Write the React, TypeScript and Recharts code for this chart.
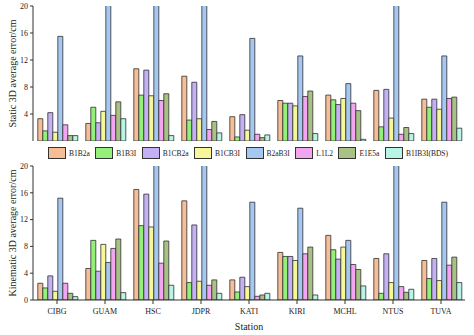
import React from 'react';
import { BarChart, Bar, XAxis, YAxis } from 'recharts';

const stations = ['CIBG', 'GUAM', 'HSC', 'JDPR', 'KATI', 'KIRI', 'MCHL', 'NTUS', 'TUVA'];
const seriesNames = ['B1B2a', 'B1B3I', 'B1CB2a', 'B1CB3I', 'B2aB3I', 'L1L2', 'E1E5a', 'B1IB3I(BDS)'];
const seriesColors = ['#F7BE96', '#95F07A', '#C4B0F5', '#F7F79A', '#A5C8F2', '#F2A6F2', '#A9C185', '#B7F5E6'];
const yTicks = [0, 4, 8, 12, 16, 20];

// Static 3D average error (cm), one array per series, in station order
const staticB1B2a = [3.3, 2.6, 10.7, 9.6, 3.6, 6.0, 6.8, 7.5, 6.2];
const staticB1B3I = [1.5, 5.0, 6.8, 3.1, 0.6, 5.6, 6.1, 2.1, 5.0];
const staticB1CB2a = [4.2, 2.7, 10.5, 8.7, 3.9, 5.6, 5.4, 7.65, 6.2];
const staticB1CB3I = [1.3, 4.4, 6.7, 3.3, 1.6, 5.2, 6.3, 3.4, 4.7];
const staticB2aB3I = [15.5, 25, 25, 25, 15.2, 12.6, 8.5, 25, 12.6];
const staticL1L2 = [2.4, 3.8, 6.0, 1.7, 1.0, 6.6, 5.6, 1.0, 6.3];
const staticE1E5a = [0.8, 5.8, 7.0, 2.9, 0.5, 7.4, 4.5, 2.0, 6.5];
const staticBDS = [0.8, 3.3, 0.8, 1.2, 0.9, 1.1, 0.25, 1.1, 1.9];

// Kinematic 3D average error (cm)
const kinB1B2a = [2.5, 4.7, 16.5, 14.8, 3.0, 7.1, 9.65, 6.2, 5.9];
const kinB1B3I = [1.8, 8.9, 11.1, 2.6, 1.2, 6.5, 7.5, 1.0, 3.2];
const kinB1CB2a = [3.6, 4.3, 15.8, 11.2, 3.4, 6.5, 6.1, 6.9, 6.2];
const kinB1CB3I = [1.3, 8.3, 10.9, 2.8, 2.0, 5.9, 7.9, 2.6, 2.9];
const kinB2aB3I = [15.2, 5.6, 25, 25, 14.6, 13.7, 8.9, 25, 14.6];
const kinL1L2 = [2.5, 7.7, 5.5, 2.2, 0.55, 6.9, 5.3, 2.0, 5.2];
const kinE1E5a = [1.0, 9.1, 8.8, 3.0, 0.75, 7.9, 4.55, 1.15, 6.4];
const kinBDS = [0.5, 1.1, 2.2, 1.0, 1.0, 0.75, 2.1, 1.6, 2.6];

const staticSeries = [staticB1B2a, staticB1B3I, staticB1CB2a, staticB1CB3I, staticB2aB3I, staticL1L2, staticE1E5a, staticBDS];
const kinSeries = [kinB1B2a, kinB1B3I, kinB1CB2a, kinB1CB3I, kinB2aB3I, kinL1L2, kinE1E5a, kinBDS];

const buildRows = (series: number[][]) =>
  stations.map((st, i) => {
    const row: Record<string, string | number> = { station: st };
    seriesNames.forEach((name, k) => {
      row[name] = series[k][i];
    });
    return row;
  });

const staticData = buildRows(staticSeries);
const kinData = buildRows(kinSeries);

const FONT = '"Liberation Serif", "DejaVu Serif", serif';
const AXIS = '#333';

const yLabel = (text: string) => (props: any) => {
  const vb = props.viewBox || {};
  const x = 12;
  const y = (vb.y || 0) + (vb.height || 0) / 2;
  return (
    <text
      x={x}
      y={y}
      transform={`rotate(-90, ${x}, ${y})`}
      textAnchor="middle"
      dominantBaseline="central"
      fontFamily={FONT}
      fontSize={10}
      fill="#222"
    >
      {text}
    </text>
  );
};

function Panel({ data, label, showX }: { data: any[]; label: string; showX: boolean }) {
  return (
    <BarChart
      width={474}
      height={showX ? 175 : 145}
      data={data}
      margin={{ top: 6, right: 9, left: 0, bottom: showX ? 10 : 4 }}
      barCategoryGap="10%"
      barGap={0}
    >
      <XAxis
        dataKey="station"
        hide={!showX}
        height={showX ? 25 : 0}
        axisLine={{ stroke: AXIS, strokeWidth: 1 }}
        tickLine={{ stroke: AXIS }}
        tickSize={4}
        tick={{ fontFamily: FONT, fontSize: 8, fill: '#222', dy: 2 }}
        interval={0}
        label={
          showX
            ? (p: any) => {
                const vb = p.viewBox || {};
                return (
                  <text
                    x={(vb.x || 0) + (vb.width || 0) / 2}
                    y={(vb.y || 0) + 30}
                    textAnchor="middle"
                    fontFamily={FONT}
                    fontSize={10}
                    fill="#222"
                  >
                    Station
                  </text>
                );
              }
            : undefined
        }
      />
      {!showX && (
        <XAxis
          xAxisId="bottomLine"
          dataKey="station"
          orientation="bottom"
          height={0}
          tick={false}
          tickLine={false}
          axisLine={{ stroke: AXIS, strokeWidth: 1 }}
        />
      )}
      <XAxis
        xAxisId="top"
        dataKey="station"
        orientation="top"
        height={0}
        tick={false}
        tickLine={false}
        axisLine={{ stroke: AXIS, strokeWidth: 1 }}
      />
      <YAxis
        domain={[0, 20]}
        ticks={yTicks}
        allowDataOverflow
        width={33}
        axisLine={{ stroke: AXIS, strokeWidth: 1 }}
        tickLine={{ stroke: AXIS }}
        tickSize={3}
        tick={{ fontFamily: FONT, fontSize: 8, fill: '#222' }}
        label={yLabel(label)}
      />
      <YAxis
        yAxisId="right"
        orientation="right"
        domain={[0, 20]}
        width={0}
        tick={false}
        tickLine={false}
        axisLine={{ stroke: AXIS, strokeWidth: 1 }}
      />
      {seriesNames.map((name, k) => (
        <Bar
          key={name}
          dataKey={name}
          fill={seriesColors[k]}
          stroke="#2e2e2e"
          strokeWidth={0.8}
          isAnimationActive={false}
        />
      ))}
    </BarChart>
  );
}

function Legend() {
  return (
    <div
      style={{
        position: 'absolute',
        left: 48,
        top: 147,
        width: 400,
        display: 'flex',
        justifyContent: 'space-between',
        alignItems: 'center',
        fontFamily: FONT,
        fontSize: 7.5,
        color: '#222',
        whiteSpace: 'nowrap',
      }}
    >
      {seriesNames.map((name, k) => (
        <div key={name} style={{ display: 'flex', alignItems: 'center' }}>
          <div
            style={{
              width: 16,
              height: 10,
              background: seriesColors[k],
              border: '1px solid #333',
              marginRight: 3,
            }}
          />
          <span>{name}</span>
        </div>
      ))}
    </div>
  );
}

export default function App() {
  return (
    <div style={{ position: 'absolute', left: 0, top: 0, width: 474, height: 335, background: '#fff', overflow: 'hidden' }}>
      <div style={{ position: 'absolute', left: 0, top: 0 }}>
        <Panel data={staticData} label="Static 3D average error/cm" showX={false} />
      </div>
      <Legend />
      <div style={{ position: 'absolute', left: 0, top: 160 }}>
        <Panel data={kinData} label="Kinematic 3D average error/cm" showX={true} />
      </div>
    </div>
  );
}
